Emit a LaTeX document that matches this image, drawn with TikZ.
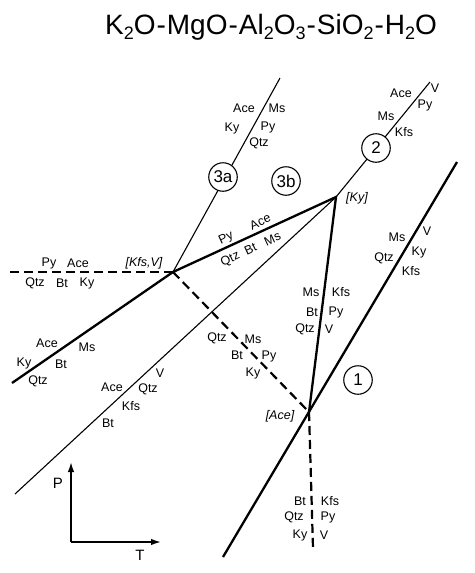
\documentclass[tikz,border=0pt]{standalone}
\usepackage{fontspec}
\setmainfont{Liberation Sans}
\usetikzlibrary{arrows.meta}
\newcommand\sbs[1]{\raisebox{-0.35ex}{\fontsize{18}{18}\selectfont #1}}
\newcommand\tdash{\kern1pt-\kern1pt}
\begin{document}
\begin{tikzpicture}[x=1pt,y=-1pt,
  lab/.style={font=\fontsize{12.5}{12.5}\selectfont, inner sep=0pt},
  ilab/.style={font=\fontsize{12.5}{12.5}\selectfont\itshape, inner sep=0pt},
  heavy/.style={line width=2.3pt},
  light/.style={line width=1.1pt},
  dsh/.style={line width=2.2pt, dash pattern=on 9pt off 5pt},
  field/.style={circle, draw, line width=1.1pt, fill=white, minimum size=28.5pt, inner sep=0pt, font=\fontsize{17}{17}\selectfont},
  axis/.style={line width=1.6pt, -{Latex[length=10pt,width=6.5pt]}}]
\useasboundingbox (0,0) rectangle (474,573);
% title
\node[inner sep=0pt, font=\fontsize{28}{28}\selectfont] (title) at (271,27)
  {K\sbs{2}O\tdash MgO\tdash Al\sbs{2}O\sbs{3}\tdash SiO\sbs{2}\tdash H\sbs{2}O};
% invariant points and ends
\coordinate (kv) at (173,272);
\coordinate (ky) at (336,197);
\coordinate (ace) at (309,412);
\coordinate (e3a) at (280,78);
\coordinate (edash) at (10,272);
\coordinate (ekvl) at (12,383);
\coordinate (ethin) at (15,494);
\coordinate (e2) at (430,82);
\coordinate (e1t) at (457,162);
\coordinate (e1b) at (223,557);
\coordinate (edb) at (313,548);
% reactions
\draw[light] (kv) -- (e3a);
\draw[light] (ky) -- (e2);
\draw[light] (ky) -- (ethin);
\draw[dsh] (kv) -- (edash);
\draw[dsh] (kv) -- (ace);
\draw[dsh] (ace) -- (edb);
\draw[heavy] (ekvl) -- (kv) -- (ky) -- (ace);
\draw[heavy] (e1b) -- (e1t);
% fields
\node[field] (f3a) at (223,177) {3a};
\node[field] (f3b) at (286,181) {3b};
\node[field] (f2) at (376,148) {2};
\node[field] (f1) at (358,380) {1};
% invariant point labels
\node[ilab] (lkv) at (144,263) {[Kfs,V]};
\node[ilab] (lky) at (357,198) {[Ky]};
\node[ilab] (lace) at (280,416) {[Ace]};
% reaction 3a
\node[lab] at (244,108) {Ace};
\node[lab] at (277,108) {Ms};
\node[lab] at (232,128) {Ky};
\node[lab] at (268,127) {Py};
\node[lab] at (259,143) {Qtz};
% reaction 2
\node[lab] at (401,93) {Ace};
\node[lab] at (435,88) {V};
\node[lab] at (386,116) {Ms};
\node[lab] at (425,105) {Py};
\node[lab] at (404,132) {Kfs};
% reaction 1
\node[lab] at (397,237) {Ms};
\node[lab] at (427,231) {V};
\node[lab] at (419,252) {Ky};
\node[lab] at (384,258) {Qtz};
\node[lab] at (411,271) {Kfs};
% dashed horizontal
\node[lab] at (49,263) {Py};
\node[lab] at (78,263) {Ace};
\node[lab] at (35,283) {Qtz};
\node[lab] at (62,283) {Bt};
\node[lab] at (87,283) {Ky};
% lower heavy line
\node[lab] at (47,343) {Ace};
\node[lab] at (87,347) {Ms};
\node[lab] at (24,363) {Ky};
\node[lab] at (61,364) {Bt};
\node[lab] at (38,381) {Qtz};
% Kfs,V - Ky line (rotated)
\node[lab,rotate=24.7] (r1) at (245,230) {Py\hspace{20pt}Ace};
\node[lab,rotate=24.7] (r2) at (251,250) {Qtz\hspace{7pt}Bt\hspace{10pt}Ms};
% Ky - Ace line
\node[lab] at (311,292) {Ms};
\node[lab] at (341,292) {Kfs};
\node[lab] at (312,312) {Bt};
\node[lab] at (336,312) {Py};
\node[lab] at (305,329) {Qtz};
\node[lab] at (329,329) {V};
% dashed Kfs,V - Ace
\node[lab] at (217,338) {Qtz};
\node[lab] at (253,339) {Ms};
\node[lab] at (237,355) {Bt};
\node[lab] at (269,356) {Py};
\node[lab] at (253,373) {Ky};
% long thin line
\node[lab] at (160,373) {V};
\node[lab] at (112,387) {Ace};
\node[lab] at (148,389) {Qtz};
\node[lab] at (131,406) {Kfs};
\node[lab] at (108,423) {Bt};
% bottom dashed
\node[lab] at (300,501) {Bt};
\node[lab] at (330,501) {Kfs};
\node[lab] at (294,517) {Qtz};
\node[lab] at (328,517) {Py};
\node[lab] at (300,535) {Ky};
\node[lab] at (324,535) {V};
% axes
\coordinate (o) at (71,542);
\coordinate (pt) at (71,462);
\coordinate (tt) at (161,542);
\draw[axis] (o) -- (pt);
\draw[axis] (o) -- (tt);
\node[lab, font=\fontsize{15}{15}\selectfont] (lp) at (58,483) {P};
\node[lab, font=\fontsize{15}{15}\selectfont] (lt) at (140,555) {T};
\end{tikzpicture}
\end{document}
